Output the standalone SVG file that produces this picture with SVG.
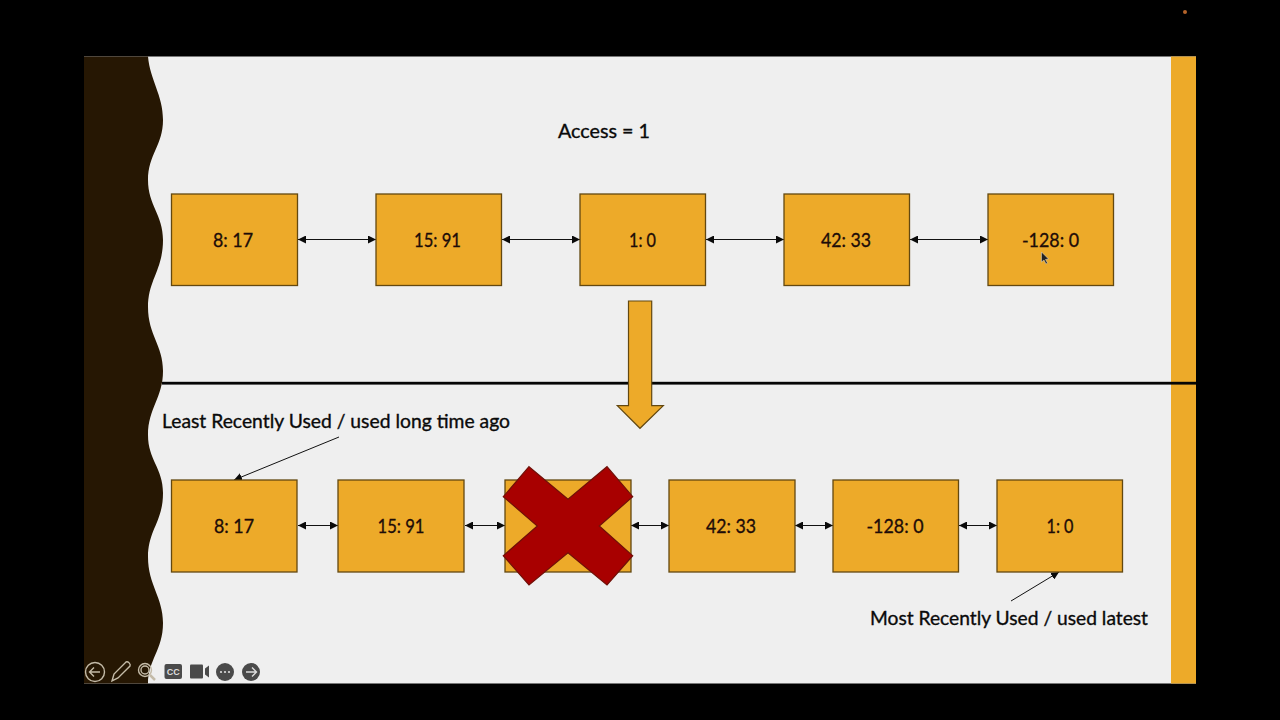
<svg xmlns="http://www.w3.org/2000/svg" width="1280" height="720" viewBox="0 0 1280 720">
<style>
.box{fill:#edaa29;stroke:#634810;stroke-width:1.300}
.t{font-family:"Lato","Liberation Sans",sans-serif;fill:#0a0a0a;stroke:#0a0a0a;stroke-width:.35}
.bt{font-size:20px;text-anchor:middle;fill:#1d0c08;stroke:#1d0c08}
.lb{font-size:20px}
.c{stroke:#111;stroke-width:1;fill:none}
.ic{fill:none;stroke:#c4bba8;stroke-width:1.400}
.id{fill:#4a4a4a}
</style>
<defs>
<marker id="a" viewBox="0 0 8 8" refX="8" refY="4" markerWidth="8" markerHeight="8" markerUnits="userSpaceOnUse" orient="auto-start-reverse"><path d="M0 0L8 4L0 8Z" fill="#0a0a0a"/></marker>
</defs>
<rect width="1280" height="720" fill="#000"/>
<rect x="84" y="56.500" width="1112" height="627" fill="#efefef"/>
<rect x="1171" y="56.500" width="25" height="627" fill="#edaa29"/>
<path id="wave" d="M84 56.500H148C150 80 163 95 163 120C163 145 148 155 148 180C148 205 163 215 163 240C163 270 148 280 148 307C148 335 163 345 163 371C163 398 148 408 148 435C148 460 163 468 163 493C163 522 148 530 148 557C148 585 163 597 163 623C163 650 148 660 148 683.500H84Z" fill="#261703"/>
<rect x="162" y="381.800" width="1034" height="2.800" fill="#050505"/>
<circle cx="1185" cy="12" r="2" fill="#b5642a"/>

<g id="connectors">
<line class="c" x1="298" y1="239.500" x2="376" y2="239.500" marker-start="url(#a)" marker-end="url(#a)"/>
<line class="c" x1="502" y1="239.500" x2="580" y2="239.500" marker-start="url(#a)" marker-end="url(#a)"/>
<line class="c" x1="706" y1="239.500" x2="784" y2="239.500" marker-start="url(#a)" marker-end="url(#a)"/>
<line class="c" x1="910" y1="239.500" x2="988" y2="239.500" marker-start="url(#a)" marker-end="url(#a)"/>
<line class="c" x1="298" y1="525.500" x2="338" y2="525.500" marker-start="url(#a)" marker-end="url(#a)"/>
<line class="c" x1="465" y1="525.500" x2="505" y2="525.500" marker-start="url(#a)" marker-end="url(#a)"/>
<line class="c" x1="631" y1="525.500" x2="669" y2="525.500" marker-start="url(#a)" marker-end="url(#a)"/>
<line class="c" x1="795" y1="525.500" x2="833" y2="525.500" marker-start="url(#a)" marker-end="url(#a)"/>
<line class="c" x1="959" y1="525.500" x2="997" y2="525.500" marker-start="url(#a)" marker-end="url(#a)"/>
<line class="c" x1="339" y1="437" x2="234" y2="480" marker-end="url(#a)"/>
<line class="c" x1="1011" y1="601" x2="1059" y2="572" marker-end="url(#a)"/>
</g>

<g id="n1"><rect class="box" x="171.500" y="194" width="126" height="91.500"/><text class="t bt" x="233" y="247" textLength="40" lengthAdjust="spacingAndGlyphs">8: 17</text></g>
<g id="n2"><rect class="box" x="376" y="194" width="125.500" height="91.500"/><text class="t bt" x="437.500" y="247" textLength="47" lengthAdjust="spacingAndGlyphs">15: 91</text></g>
<g id="n3"><rect class="box" x="580" y="194" width="125.500" height="91.500"/><text class="t bt" x="642.500" y="247" textLength="27" lengthAdjust="spacingAndGlyphs">1: 0</text></g>
<g id="n4"><rect class="box" x="784" y="194" width="125.500" height="91.500"/><text class="t bt" x="846" y="247" textLength="50" lengthAdjust="spacingAndGlyphs">42: 33</text></g>
<g id="n5"><rect class="box" x="988" y="194" width="125.500" height="91.500"/><text class="t bt" x="1050.500" y="247" textLength="57" lengthAdjust="spacingAndGlyphs">-128: 0</text></g>

<g id="m1"><rect class="box" x="171.500" y="480" width="125.500" height="92"/><text class="t bt" x="234" y="533" textLength="40" lengthAdjust="spacingAndGlyphs">8: 17</text></g>
<g id="m2"><rect class="box" x="338" y="480" width="126" height="92"/><text class="t bt" x="401" y="533" textLength="47" lengthAdjust="spacingAndGlyphs">15: 91</text></g>
<g id="m3"><rect class="box" x="505" y="480" width="126" height="92"/></g>
<g id="m4"><rect class="box" x="669" y="480" width="126" height="92"/><text class="t bt" x="731" y="533" textLength="50" lengthAdjust="spacingAndGlyphs">42: 33</text></g>
<g id="m5"><rect class="box" x="833" y="480" width="125.500" height="92"/><text class="t bt" x="895" y="533" textLength="57" lengthAdjust="spacingAndGlyphs">-128: 0</text></g>
<g id="m6"><rect class="box" x="997" y="480" width="125.500" height="92"/><text class="t bt" x="1060" y="533" textLength="27" lengthAdjust="spacingAndGlyphs">1: 0</text></g>

<g id="down-arrow"><polygon points="628.500,301 651.700,301 651.700,405.700 663.300,405.700 640,428.300 617.300,405.700 628.500,405.700" fill="#edaa29" stroke="#634810" stroke-width="1.200"/></g>
<g id="cross"><polygon points="529,466.700 568,499.300 607,466.700 632.700,496.700 599.300,526 632.700,555.700 607,585 568,552.700 529,585 503.300,555.700 537.300,526 503.300,496.700" fill="#a80000" stroke="#701008" stroke-width="1.200"/></g>

<text class="t lb" x="558" y="138" textLength="92" lengthAdjust="spacingAndGlyphs">Access = 1</text>
<text class="t lb" x="162" y="428" textLength="348" lengthAdjust="spacingAndGlyphs">Least Recently Used / used long time ago</text>
<text class="t lb" x="870" y="625" textLength="278" lengthAdjust="spacingAndGlyphs">Most Recently Used / used latest</text>

<g id="cursor"><path d="M1041.500 252L1041.500 262L1044 260L1046 264L1047.500 263L1045.500 259.500L1048.500 259Z" fill="#222" stroke="#ddd" stroke-width=".5"/></g>

<g id="toolbar">
<circle class="ic" cx="95" cy="672" r="9.500"/><path class="ic" d="M100 672H90M94 667.500L89.500 672L94 676.500"/>
<path class="ic" d="M112 681L114 674L126 662C128 661 131 664 130 666L118 678Z"/>
<circle class="ic" cx="145" cy="670" r="6.500"/><circle class="ic" cx="145" cy="670" r="4"/><path d="M150 675L155 680" stroke="#c4bba8" stroke-width="2.500"/>
<rect class="id" x="164.500" y="664" width="17.500" height="15" rx="2"/><text x="173.300" y="675" text-anchor="middle" font-family="Liberation Sans,sans-serif" font-size="9" font-weight="700" fill="#ddd">CC</text>
<rect class="id" x="190" y="664.500" width="13" height="14" rx="1"/><path class="id" d="M205 668.500L209 665.500V677.500L205 674.500Z"/>
<circle class="id" cx="225" cy="672" r="9"/><circle cx="221" cy="672" r="1.100" fill="#ddd"/><circle cx="225" cy="672" r="1.100" fill="#ddd"/><circle cx="229" cy="672" r="1.100" fill="#ddd"/>
<circle class="id" cx="251" cy="672" r="9"/><path d="M246 672H256M252 667.500L256.500 672L252 676.500" fill="none" stroke="#ddd" stroke-width="1.400"/>
</g>
</svg>
